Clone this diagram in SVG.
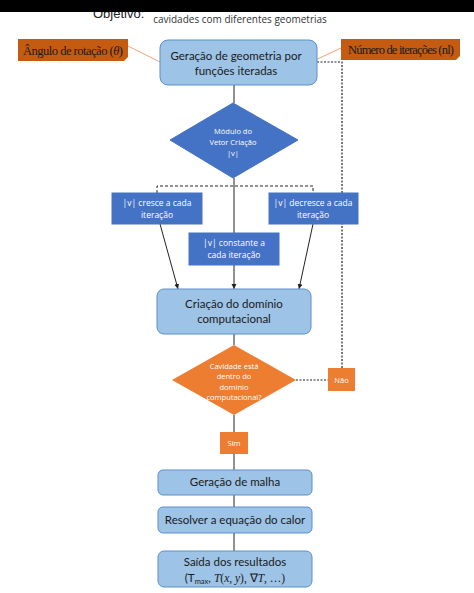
<svg xmlns="http://www.w3.org/2000/svg" width="474" height="593" viewBox="0 0 474 593">
<defs>
<style>
.lb{fill:#9DC3E6;stroke:#5B8FC9;stroke-width:1}
.db{fill:#4472C4;stroke:#4472C4}
.or{fill:#ED7D31}
.tag{fill:#C55A11}
.t{font-family:Lato,"Open Sans","Liberation Sans",sans-serif;fill:#1a1a1a;text-anchor:middle;font-size:11.5px}
.w{font-family:"Open Sans","Liberation Sans",sans-serif;fill:#ffffff;text-anchor:middle}
.s{font-family:"Liberation Serif",serif;fill:#1a1a1a}
.ln{stroke:#222;stroke-width:1;fill:none}
.dash{stroke:#222;stroke-width:1;fill:none;stroke-dasharray:3,2}
.dot{stroke:#222;stroke-width:1.2;fill:none;stroke-dasharray:2,1.5}
.org{stroke:#F4A276;stroke-width:1;fill:none}
</style>
<marker id="ah" markerWidth="6" markerHeight="6" refX="5" refY="3" orient="auto" markerUnits="userSpaceOnUse">
<path d="M0,0.5 L5,3 L0,5.5 Z" fill="#222"/>
</marker>
</defs>
<rect width="474" height="593" fill="#ffffff"/>
<g id="header">
<text x="93" y="18" font-family="Liberation Sans,sans-serif" font-size="13" fill="#222">Objetivo:</text>
<rect x="0" y="0" width="474" height="12" fill="#000"/>
<text x="240" y="23" font-family="Open Sans,sans-serif" text-anchor="middle" font-size="10" fill="#333">cavidades com diferentes geometrias</text>
</g>
<g id="connectors">
<line class="org" x1="128" y1="46" x2="160" y2="62"/>
<line class="org" x1="311" y1="62" x2="341" y2="48"/>
<polyline class="dot" points="317,62 342,62 342,368"/>
<line class="dot" x1="296" y1="380" x2="328" y2="380"/>
<line class="ln" x1="234" y1="85" x2="234" y2="103"/>
<polyline class="dash" points="157,193 157,186 313,186 313,193"/>
<line class="ln" x1="234" y1="178" x2="234" y2="233"/>
<line class="ln" x1="160" y1="224" x2="178" y2="289" marker-end="url(#ah)"/>
<line class="ln" x1="234" y1="265" x2="234" y2="289" marker-end="url(#ah)"/>
<line class="ln" x1="313" y1="224" x2="299" y2="289" marker-end="url(#ah)"/>
<line class="ln" x1="234" y1="334" x2="234" y2="345"/>
<line class="ln" x1="234" y1="415" x2="234" y2="432"/>
<line class="ln" x1="234" y1="454" x2="234" y2="470"/>
<line class="ln" x1="234" y1="495" x2="234" y2="507"/>
<line class="ln" x1="234" y1="533" x2="234" y2="551"/>
</g>
<g id="angulo">
<path class="tag" d="M18,39 H128 V57 L124,61 H18 Z"/>
<text x="23" y="55" class="s" font-size="12.5" textLength="100">Ângulo de rotação (<tspan font-style="italic">θ</tspan>)</text>
</g>
<g id="numero">
<path class="tag" d="M341,39 H460 V56 L456,60 H341 Z"/>
<text x="348" y="54" class="s" font-size="12.5" textLength="106">Número de iterações (nl)</text>
</g>
<g id="geracao-geometria">
<rect class="lb" x="160" y="40" width="157" height="45" rx="8"/>
<text x="236" y="60" class="t">Geração de geometria por</text>
<text x="236" y="75" class="t">funções iteradas</text>
</g>
<g id="modulo">
<polygon class="db" points="233,103 298,140 233,178 170,140"/>
<text x="233" y="134" class="w" font-size="7.5">Módulo do</text>
<text x="233" y="145" class="w" font-size="7.5">Vetor Criação</text>
<text x="233" y="156" class="w" font-size="7.5">|v|</text>
</g>
<g id="cresce">
<rect class="db" x="112" y="193" width="90" height="31"/>
<text x="157" y="206" class="w" font-size="8.5">|v| cresce a cada</text>
<text x="157" y="218" class="w" font-size="8.5">iteração</text>
</g>
<g id="decresce">
<rect class="db" x="269" y="193" width="89" height="31"/>
<text x="313" y="206" class="w" font-size="8.5">|v| decresce a cada</text>
<text x="313" y="218" class="w" font-size="8.5">iteração</text>
</g>
<g id="constante">
<rect class="db" x="189" y="233" width="90" height="32"/>
<text x="234" y="246" class="w" font-size="8.5">|v| constante a</text>
<text x="234" y="258" class="w" font-size="8.5">cada iteração</text>
</g>
<g id="criacao-dominio">
<rect class="lb" x="157" y="289" width="154" height="45" rx="7"/>
<text x="234" y="308" class="t">Criação do domínio</text>
<text x="234" y="323" class="t">computacional</text>
</g>
<g id="cavidade">
<polygon class="or" points="234,345 296,380 234,415 172,380"/>
<text x="234" y="369" class="w" font-size="7.5">Cavidade está</text>
<text x="234" y="379" class="w" font-size="7.5">dentro do</text>
<text x="234" y="390" class="w" font-size="7.5">domínio</text>
<text x="234" y="400" class="w" font-size="7.5">computacional?</text>
</g>
<g id="nao">
<rect class="or" x="328" y="368" width="27" height="23"/>
<text x="341.5" y="383" class="w" font-size="7.5">Não</text>
</g>
<g id="sim">
<rect class="or" x="220" y="432" width="28" height="22"/>
<text x="234" y="446" class="w" font-size="7.5">Sim</text>
</g>
<g id="malha">
<rect class="lb" x="158" y="470" width="154" height="25" rx="5"/>
<text x="235" y="486" class="t">Geração de malha</text>
</g>
<g id="resolver">
<rect class="lb" x="158" y="507" width="154" height="26" rx="5"/>
<text x="235" y="524" class="t">Resolver a equação do calor</text>
</g>
<g id="saida">
<rect class="lb" x="158" y="551" width="154" height="36" rx="6"/>
<text x="235" y="566" class="t">Saída dos resultados</text>
<text x="235" y="582" class="t">(T<tspan font-size="7.5" dy="2">max</tspan><tspan dy="-2">, </tspan><tspan font-family="Liberation Serif,serif" font-style="italic">T</tspan><tspan font-family="Liberation Serif,serif">(</tspan><tspan font-family="Liberation Serif,serif" font-style="italic">x</tspan><tspan font-family="Liberation Serif,serif">, </tspan><tspan font-family="Liberation Serif,serif" font-style="italic">y</tspan><tspan font-family="Liberation Serif,serif">), ∇</tspan><tspan font-family="Liberation Serif,serif" font-style="italic">T</tspan><tspan font-family="Liberation Serif,serif">, …)</tspan></text>
</g>
</svg>
